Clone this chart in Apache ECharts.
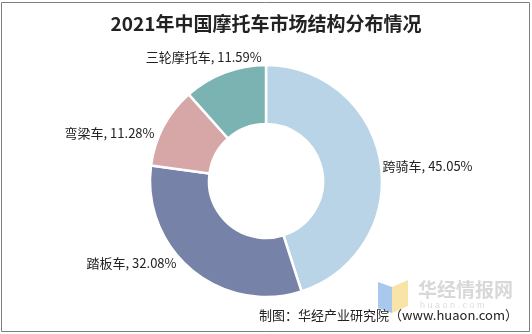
<!DOCTYPE html>
<html>
<head>
<meta charset="utf-8">
<script src="https://cdn.jsdelivr.net/npm/echarts@6/dist/echarts.min.js"></script>
<style>
html,body{margin:0;padding:0;background:#fff;}
#chart{width:532px;height:334px;}
</style>
</head>
<body>
<div id="chart"></div>
<script>
const titleText = '2021年中国摩托车市场结构分布情况';
const categories = ['跨骑车', '踏板车', '弯梁车', '三轮摩托车'];
const shares = [45.05, 32.08, 11.28, 11.59];
const sourceText = '制图：华经产业研究院（www.huaon.com）';

const colors = ['#b8d4e6', '#7782a8', '#d6a7a6', '#7bb3b3'];
const labelNudge = [[-3, 3], [-10, -7], [-4, 6], [42, -16]];

const chart = echarts.init(document.getElementById('chart'), null, {renderer: 'canvas'});
chart.setOption({
  backgroundColor: '#ffffff',
  animation: false,
  title: {
    text: titleText,
    left: 'center',
    top: 9,
    textStyle: {fontFamily: 'Noto Sans CJK SC', fontSize: 19, fontWeight: 'bold', color: '#222'}
  },
  graphic: [
    {type: 'rect', shape: {x: 1.5, y: 2.5, width: 528, height: 329}, style: {fill: 'none', stroke: '#7f7f7f', lineWidth: 1}, silent: true},
    {type: 'polygon', shape: {points: [[378, 282], [392, 287], [392, 313], [378, 308]]}, style: {fill: '#a9c8ee'}, silent: true},
    {type: 'polygon', shape: {points: [[392, 287], [408, 280], [408, 306], [392, 313]]}, style: {fill: '#f7e4a6'}, silent: true},
    {type: 'text', left: 418, top: 280, style: {text: '华经情报网', fontFamily: 'Noto Sans CJK SC', fontSize: 19, fontWeight: 'bold', fill: '#d8d8d8'}, silent: true},
    {type: 'text', left: 420, top: 301, style: {text: 'h u a o n . c o m', fontFamily: 'Arial, Liberation Sans', fontSize: 9, fill: '#dddddd'}, silent: true},
    {type: 'text', right: 14, top: 309, style: {text: sourceText, fontFamily: 'Noto Sans CJK SC', fontSize: 13, fill: '#222'}, silent: true}
  ],
  series: [{
    type: 'pie',
    center: [266, 181],
    radius: [57, 116],
    startAngle: 90,
    clockwise: true,
    avoidLabelOverlap: false,
    itemStyle: {borderColor: '#ffffff', borderWidth: 2.5},
    label: {
      show: true,
      position: 'outside',
      formatter: p => p.name + ', ' + p.value.toFixed(2) + '%',
      fontFamily: 'Noto Sans CJK SC',
      fontSize: 13,
      color: '#222',
      distanceToLabelLine: 5
    },
    labelLine: {show: false, length: 0, length2: 0},
    labelLayout: p => ({dx: labelNudge[p.dataIndex][0], dy: labelNudge[p.dataIndex][1]}),
    emphasis: {disabled: true},
    data: categories.map((c, i) => ({name: c, value: shares[i], itemStyle: {color: colors[i]}}))
  }]
});
</script>
</body>
</html>
